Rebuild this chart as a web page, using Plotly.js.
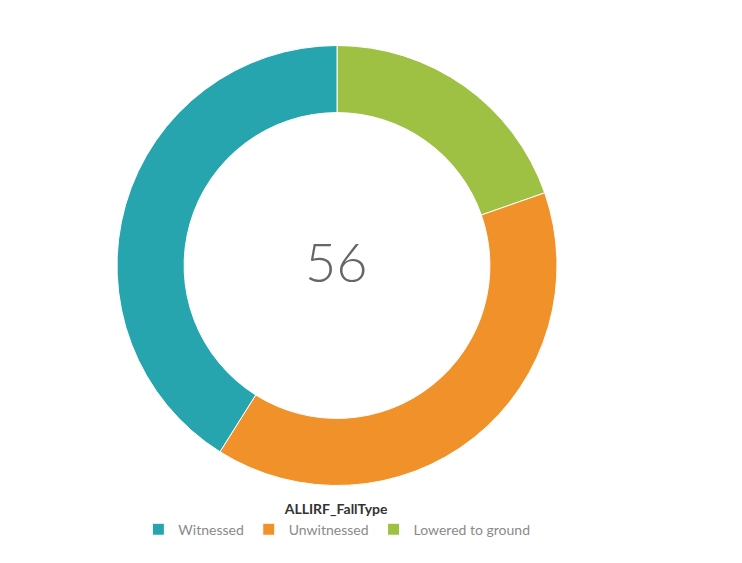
<!DOCTYPE html>
<html>
<head>
<meta charset="utf-8">
<script src="https://cdn.plot.ly/plotly-3.0.1.min.js"></script>
<style>
  html, body { margin: 0; padding: 0; background: #fff; }
  #chart { width: 742px; height: 563px; }
</style>
</head>
<body>
<div id="chart"></div>
<script>
// fall types, clockwise from 12 o'clock (legend shows them reversed)
const fallTypes = ["Lowered to ground", "Unwitnessed", "Witnessed"];
const fallCounts = [11, 22, 23];
const sliceColors = ["#9ec143", "#f19129", "#27a5ae"];

const total = fallCounts.reduce((a, b) => a + b, 0);

const data = [
  {
    type: "pie",
    labels: fallTypes,
    values: fallCounts,
    hole: 0.695,
    sort: false,
    direction: "clockwise",
    rotation: 0,
    textinfo: "none",
    hoverinfo: "label+value",
    marker: {
      colors: sliceColors,
      line: { color: "#ffffff", width: 1 },
    },
    domain: { x: [0.1577, 0.7507], y: [0.1368, 0.92] },
  },
];

const layout = {
  width: 742,
  height: 563,
  margin: { t: 0, b: 0, l: 0, r: 0 },
  paper_bgcolor: "#ffffff",
  font: { family: "Lato, 'Open Sans', sans-serif", color: "#888888" },
  showlegend: true,
  legend: {
    orientation: "h",
    traceorder: "reversed",
    x: 0.454,
    xanchor: "center",
    y: 0.12,
    yanchor: "top",
    font: { size: 14, color: "#8a8a8a" },
    title: {
      text: "<b>ALLIRF_FallType</b>",
      side: "top center",
      font: { size: 14, color: "#333333" },
    },
    itemwidth: 30,
    tracegroupgap: 0,
  },
  annotations: [
    {
      text: String(total),
      x: 0.454,
      y: 1 - 261 / 563,
      xref: "paper",
      yref: "paper",
      showarrow: false,
      font: { size: 54, color: "#666666", weight: 300, family: "Lato, 'Open Sans', sans-serif" },
    },
  ],
};

Plotly.newPlot("chart", data, layout, { displayModeBar: false });
</script>
</body>
</html>
